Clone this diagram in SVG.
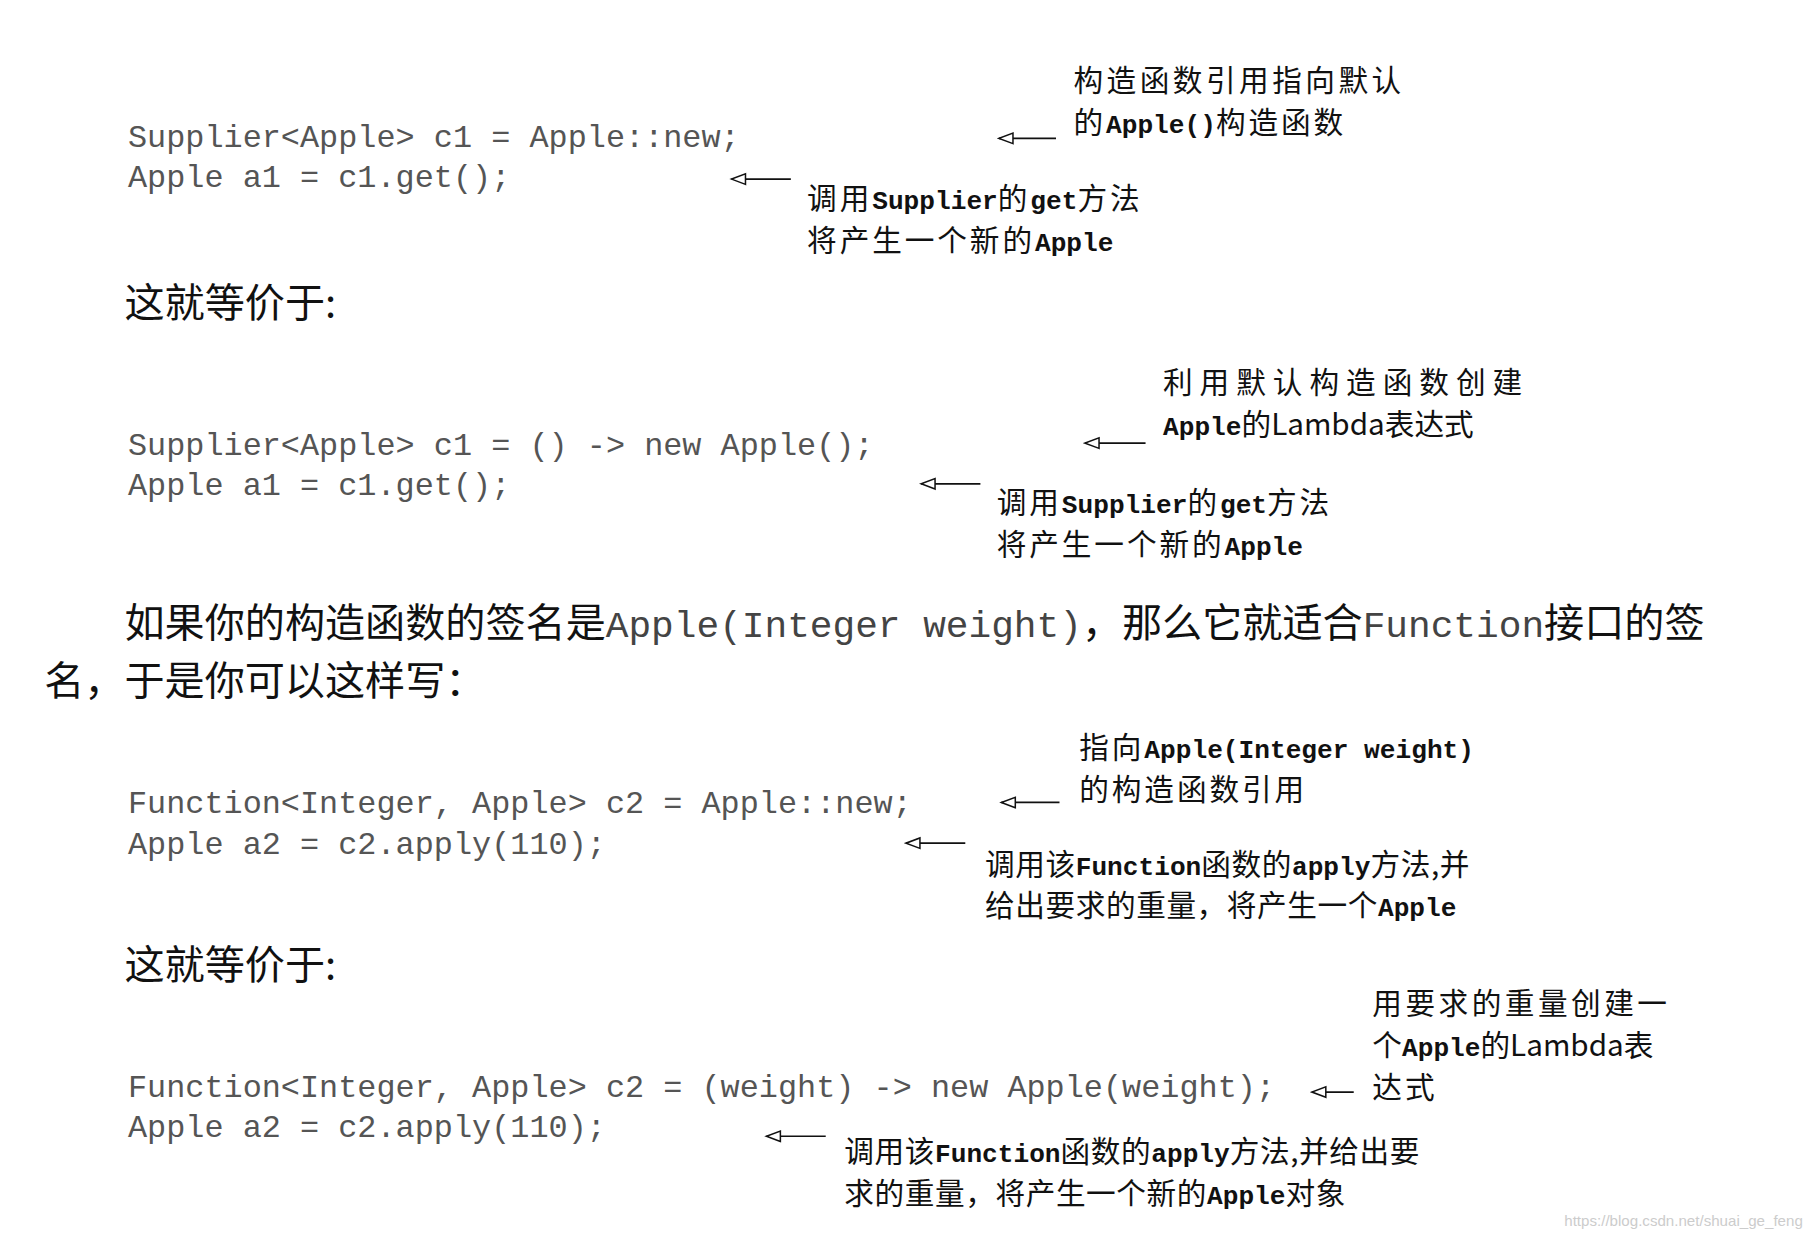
<svg xmlns="http://www.w3.org/2000/svg" width="1820" height="1236" viewBox="0 0 1820 1236">
<defs>
<style>
.code{font-family:"Liberation Mono",monospace;font-size:27.4px;fill:#555}
.ann{font-family:"Noto Sans CJK SC",sans-serif;font-size:25.5px;fill:#111;letter-spacing:2.5px}
.b{font-family:"Liberation Mono",monospace;font-weight:bold;font-size:22.5px;letter-spacing:0}
.body{font-family:"Noto Sans CJK SC",serif;font-size:34.5px;fill:#111}
.bm{font-family:"Liberation Mono",monospace;font-size:32.5px;fill:#444}
.ln{stroke:#111;stroke-width:1.5;fill:none}
</style>
<marker id="ah" markerWidth="16" markerHeight="12" refX="14" refY="6" orient="auto" markerUnits="userSpaceOnUse">
<path d="M2,1.5 L14,6 L2,10.5 Z" fill="#fff" stroke="#111" stroke-width="1.3"/>
</marker>
</defs>
<rect width="1820" height="1236" fill="#fff"/>
<g transform="scale(1.163)">
<g id="connectors">
<line class="ln" x1="908" y1="119" x2="859" y2="119" marker-end="url(#ah)"/>
<line class="ln" x1="680" y1="154" x2="629" y2="154" marker-end="url(#ah)"/>
<line class="ln" x1="985" y1="381" x2="933" y2="381" marker-end="url(#ah)"/>
<line class="ln" x1="843" y1="416" x2="792" y2="416" marker-end="url(#ah)"/>
<line class="ln" x1="911" y1="690" x2="861" y2="690" marker-end="url(#ah)"/>
<line class="ln" x1="830" y1="725" x2="779" y2="725" marker-end="url(#ah)"/>
<line class="ln" x1="1164" y1="939" x2="1128" y2="939" marker-end="url(#ah)"/>
<line class="ln" x1="710" y1="977" x2="659" y2="977" marker-end="url(#ah)"/>
</g>
<g id="block1">
<text class="code" x="110" y="126" xml:space="preserve">Supplier&lt;Apple&gt; c1 = Apple::new;</text>
<text class="code" x="110" y="161" xml:space="preserve">Apple a1 = c1.get();</text>
<text class="ann" x="923" y="78" style="letter-spacing:3px">构造函数引用指向默认</text>
<text class="ann" x="923" y="114">的<tspan class="b">Apple()</tspan>构造函数</text>
<text class="ann" x="694" y="180">调用<tspan class="b">Supplier</tspan>的<tspan class="b">get</tspan>方法</text>
<text class="ann" x="694" y="216">将产生一个新的<tspan class="b">Apple</tspan></text>
</g>
<text class="body" x="107" y="273">这就等价于:</text>
<g id="block2">
<text class="code" x="110" y="391" xml:space="preserve">Supplier&lt;Apple&gt; c1 = () -&gt; new Apple();</text>
<text class="code" x="110" y="426" xml:space="preserve">Apple a1 = c1.get();</text>
<text class="ann" x="1000" y="338" style="letter-spacing:6px">利用默认构造函数创建</text>
<text class="ann" x="1000" y="374" style="letter-spacing:0"><tspan class="b">Apple</tspan>的Lambda表达式</text>
<text class="ann" x="857" y="441">调用<tspan class="b">Supplier</tspan>的<tspan class="b">get</tspan>方法</text>
<text class="ann" x="857" y="477">将产生一个新的<tspan class="b">Apple</tspan></text>
</g>
<text class="body" x="107" y="548">如果你的构造函数的签名是<tspan class="bm">Apple(Integer weight)</tspan>，那么它就适合<tspan class="bm">Function</tspan>接口的签</text>
<text class="body" x="38" y="598">名，于是你可以这样写：</text>
<g id="block3">
<text class="code" x="110" y="699" xml:space="preserve">Function&lt;Integer, Apple&gt; c2 = Apple::new;</text>
<text class="code" x="110" y="734" xml:space="preserve">Apple a2 = c2.apply(110);</text>
<text class="ann" x="928" y="652">指向<tspan class="b">Apple(Integer weight)</tspan></text>
<text class="ann" x="928" y="688">的构造函数引用</text>
<text class="ann" x="847" y="752" style="letter-spacing:0.5px">调用该<tspan class="b">Function</tspan>函数的<tspan class="b">apply</tspan>方法,并</text>
<text class="ann" x="847" y="788" style="letter-spacing:0.5px">给出要求的重量，将产生一个<tspan class="b">Apple</tspan></text>
</g>
<text class="body" x="107" y="842">这就等价于:</text>
<g id="block4">
<text class="code" x="110" y="943" xml:space="preserve">Function&lt;Integer, Apple&gt; c2 = (weight) -&gt; new Apple(weight);</text>
<text class="code" x="110" y="978" xml:space="preserve">Apple a2 = c2.apply(110);</text>
<text class="ann" x="1180" y="872" style="letter-spacing:3px">用要求的重量创建一</text>
<text class="ann" x="1180" y="908" style="letter-spacing:0">个<tspan class="b">Apple</tspan>的Lambda表</text>
<text class="ann" x="1180" y="944">达式</text>
<text class="ann" x="726" y="999" style="letter-spacing:0.5px">调用该<tspan class="b">Function</tspan>函数的<tspan class="b">apply</tspan>方法,并给出要</text>
<text class="ann" x="726" y="1035" style="letter-spacing:0.5px">求的重量，将产生一个新的<tspan class="b">Apple</tspan>对象</text>
</g>
<text x="1345" y="1054" font-family="Liberation Sans,sans-serif" font-size="13" fill="#ccc">https://blog.csdn.net/shuai_ge_feng</text>
</g>
</svg>
